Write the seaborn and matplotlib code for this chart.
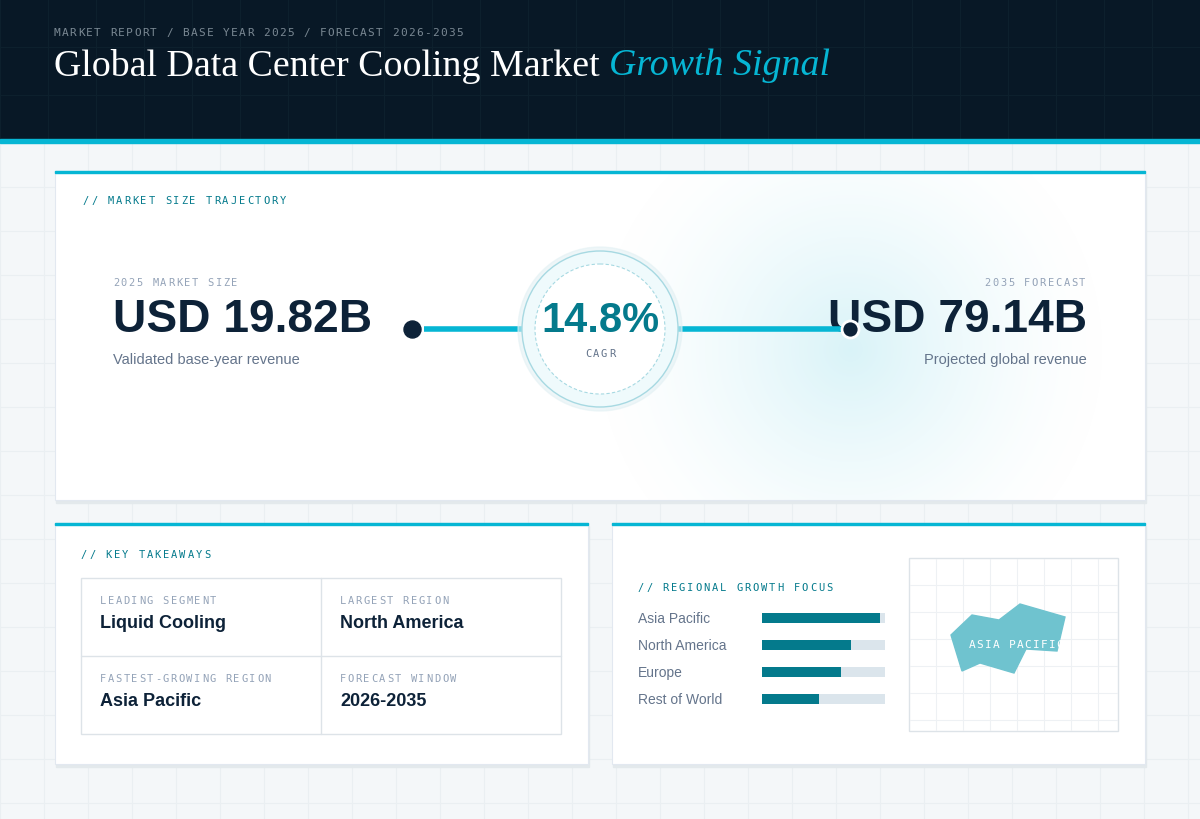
import numpy as np
import matplotlib
matplotlib.use("Agg")
import matplotlib.pyplot as plt
import seaborn as sns
import pandas as pd
from matplotlib.patches import Rectangle, Circle, Polygon

sns.set_theme(style="white")

# ── data ───────────────────────────────────────────────────────────────
base_value = "USD 19.82B"
forecast_value = "USD 79.14B"
cagr = "14.8%"
regions = ["Asia Pacific", "North America", "Europe", "Rest of World"]
region_share = [96, 72, 64, 46]
takeaway_labels = ["LEADING SEGMENT", "LARGEST REGION", "FASTEST-GROWING REGION", "FORECAST WINDOW"]
takeaway_values = ["Liquid Cooling", "North America", "Asia Pacific", "2026-2035"]
map_shape = [(951, 636), (972, 616), (999, 621), (1020, 605), (1065, 618),
             (1057, 652), (1026, 650), (1014, 674), (980, 664), (962, 672)]

DARK = "#081826"
CYAN = "#06b6d4"
TEAL = "#047a8c"
NAVY = "#0d2238"
GREY = "#64748b"
LGREY = "#94a3b8"
SANS = ["Liberation Sans", "DejaVu Sans"]
MONO = ["DejaVu Sans Mono"]
SERIF = ["Liberation Serif", "DejaVu Serif"]

fig = plt.figure(figsize=(12, 8.2), dpi=100)
ax = fig.add_axes([0, 0, 1, 1])
ax.set_xlim(0, 1200)
ax.set_ylim(820, 0)
ax.axis("off")


def spaced(x, y, s, step, ha="left", **kw):
    # monospace text with letter spacing, one glyph per step pixels
    if ha == "right":
        x = x - step * (len(s) - 1) - step * 0.6
    elif ha == "center":
        x = x - step * (len(s) - 1) / 2
    for i, ch in enumerate(s):
        ax.text(x + i * step, y, ch, family=MONO, ha="center", va="center", **kw)


ax.add_patch(Rectangle((0, 0), 1200, 820, color="#f4f7f9", zorder=0))
for g in np.arange(0, 1200, 44):
    ax.plot([g, g], [144, 820], color="#eaeff2", lw=0.8, zorder=0.5)
for g in np.arange(144, 820, 44):
    ax.plot([0, 1200], [g, g], color="#eaeff2", lw=0.8, zorder=0.5)

# header
ax.add_patch(Rectangle((0, 0), 1200, 140, color=DARK, zorder=1))
for g in np.arange(0, 1200, 48):
    ax.plot([g, g], [0, 140], color="#0d202d", lw=0.8, zorder=1.1)
for g in np.arange(0, 140, 48):
    ax.plot([0, 1200], [g, g], color="#0d202d", lw=0.8, zorder=1.1)
ax.add_patch(Rectangle((0, 140), 1200, 4, color=CYAN, zorder=2))
spaced(57, 33, "MARKET REPORT / BASE YEAR 2025 / FORECAST 2026-2035", 8.05,
       fontsize=8, color="#7a8893", zorder=3)
t = ax.text(54, 66, "Global Data Center Cooling Market ", family=SERIF, fontsize=27.3,
            color="white", va="center", zorder=3)
fig.canvas.draw()
bb = t.get_window_extent().transformed(ax.transData.inverted())
ax.text(bb.x1, 66, "Growth Signal", family=SERIF, style="italic", fontsize=27.3,
        color=CYAN, va="center", zorder=3)


def card(x, y, w, h):
    ax.add_patch(Rectangle((x + 1, y + 3), w, h, color="#e3e9ec", zorder=2))
    ax.add_patch(Rectangle((x, y), w, h, facecolor="white", edgecolor="#e2e8f0", lw=0.8, zorder=2.1))
    ax.add_patch(Rectangle((x, y), w, 2, color=CYAN, zorder=2.2))


card(55, 172, 1090, 329)
card(55, 524, 533, 241)
card(612, 524, 533, 241)

# glow
yy, xx = np.mgrid[173:501, 56:1145]
d = np.hypot(xx - 850, yy - 350) / 260
glow = np.clip(1 - d, 0, 1) ** 1.5
rgba = np.zeros(glow.shape + (4,))
rgba[..., :3] = matplotlib.colors.to_rgb("#c9eef5")
rgba[..., 3] = glow * 0.7
ax.imshow(rgba, extent=(56, 1145, 501, 173), zorder=2.3, interpolation="bilinear")
ax.set_xlim(0, 1200)
ax.set_ylim(820, 0)
ax.set_aspect("auto")

spaced(86, 201, "// MARKET SIZE TRAJECTORY", 8.2, fontsize=7.5, color=TEAL, zorder=4)
spaced(116, 283, "2025 MARKET SIZE", 7.9, fontsize=7.5, color=LGREY, zorder=4)
ax.text(113, 320, base_value, family=SANS, fontsize=33.2, weight="bold", color=NAVY, va="center", zorder=4)
ax.text(113, 360, "Validated base-year revenue", family=SANS, fontsize=10.5, color=GREY, va="center", zorder=4)
spaced(1087, 283, "2035 FORECAST", 7.9, ha="right", fontsize=7.5, color=LGREY, zorder=4)
ax.text(1087, 320, forecast_value, family=SANS, fontsize=33.2, weight="bold", color=NAVY, va="center", ha="right", zorder=4)
ax.text(1087, 360, "Projected global revenue", family=SANS, fontsize=10.5, color=GREY, va="center", ha="right", zorder=4)

ax.plot([424, 850], [330, 330], color=CYAN, lw=4, zorder=4, solid_capstyle="butt")
ax.scatter([412], [330], s=150, color=NAVY, zorder=5)
ax.scatter([850], [330], s=150, color=NAVY, edgecolor="white", lw=2, zorder=5.5)
ax.add_patch(Circle((600, 330), 82, color="#e3f1f4", alpha=0.6, zorder=4.4))
ax.add_patch(Circle((600, 330), 78, facecolor="#effafc", edgecolor="#a7d9e2", lw=1, zorder=4.5))
ax.add_patch(Circle((600, 330), 65, facecolor="white", edgecolor="#a7d9e2", lw=0.8, ls=(0, (3, 2)), zorder=4.6))
ax.text(600, 321, cagr, family=SANS, fontsize=30, weight="bold", color=TEAL, ha="center", va="center", zorder=6)
spaced(600, 354, "CAGR", 8, ha="center", fontsize=7.5, color=GREY, zorder=6)

# key takeaways
spaced(84, 555, "// KEY TAKEAWAYS", 8.2, fontsize=7.5, color=TEAL, zorder=4)
ax.add_patch(Rectangle((81, 579), 480, 156, facecolor="white", edgecolor="#dde3e8", lw=1, zorder=4))
ax.plot([321, 321], [579, 735], color="#dde3e8", lw=1, zorder=4.1)
ax.plot([81, 561], [657, 657], color="#dde3e8", lw=1, zorder=4.1)
for i, (lab, val) in enumerate(zip(takeaway_labels, takeaway_values)):
    x0 = 100 + (i % 2) * 240
    y0 = 601 + (i // 2) * 78
    spaced(x0 + 3, y0, lab, 7.85, fontsize=7.5, color=LGREY, zorder=5)
    ax.text(x0, y0 + 23, val, family=SANS, fontsize=13, weight="bold", color=NAVY, va="center", zorder=5)

# regional focus
spaced(641, 588, "// REGIONAL GROWTH FOCUS", 8.2, fontsize=7.5, color=TEAL, zorder=4)
for i, r in enumerate(regions):
    ax.text(638, 619 + 27 * i, r, family=SANS, fontsize=10, color=GREY, va="center", zorder=5)

df = pd.DataFrame({"region": regions, "share": region_share, "track": [100] * 4})
bax = fig.add_axes([762 / 1200, 1 - 714 / 820, 123 / 1200, 109 / 820])
sns.barplot(data=df, y="region", x="track", color="#dbe5ec", saturation=1, width=0.37, ax=bax)
sns.barplot(data=df, y="region", x="share", color=TEAL, saturation=1, width=0.37, ax=bax)
for p in bax.patches:
    p.set_edgecolor("none")
bax.set_xlim(0, 100)
bax.axis("off")

# map
ax.add_patch(Rectangle((909, 559), 209, 173, facecolor="white", edgecolor="#dde3e8", lw=1, zorder=4))
for g in np.arange(936, 1118, 27):
    ax.plot([g, g], [560, 731], color="#eef1f4", lw=0.8, zorder=4.1)
for g in np.arange(586, 731, 27):
    ax.plot([910, 1117], [g, g], color="#eef1f4", lw=0.8, zorder=4.1)
ax.add_patch(Polygon(map_shape, closed=True, color="#6fc3cf", zorder=4.5))
spaced(972, 645, "ASIA PACIFIC", 8, fontsize=8, color="white", zorder=5)

fig.savefig("out.png", dpi=100)
